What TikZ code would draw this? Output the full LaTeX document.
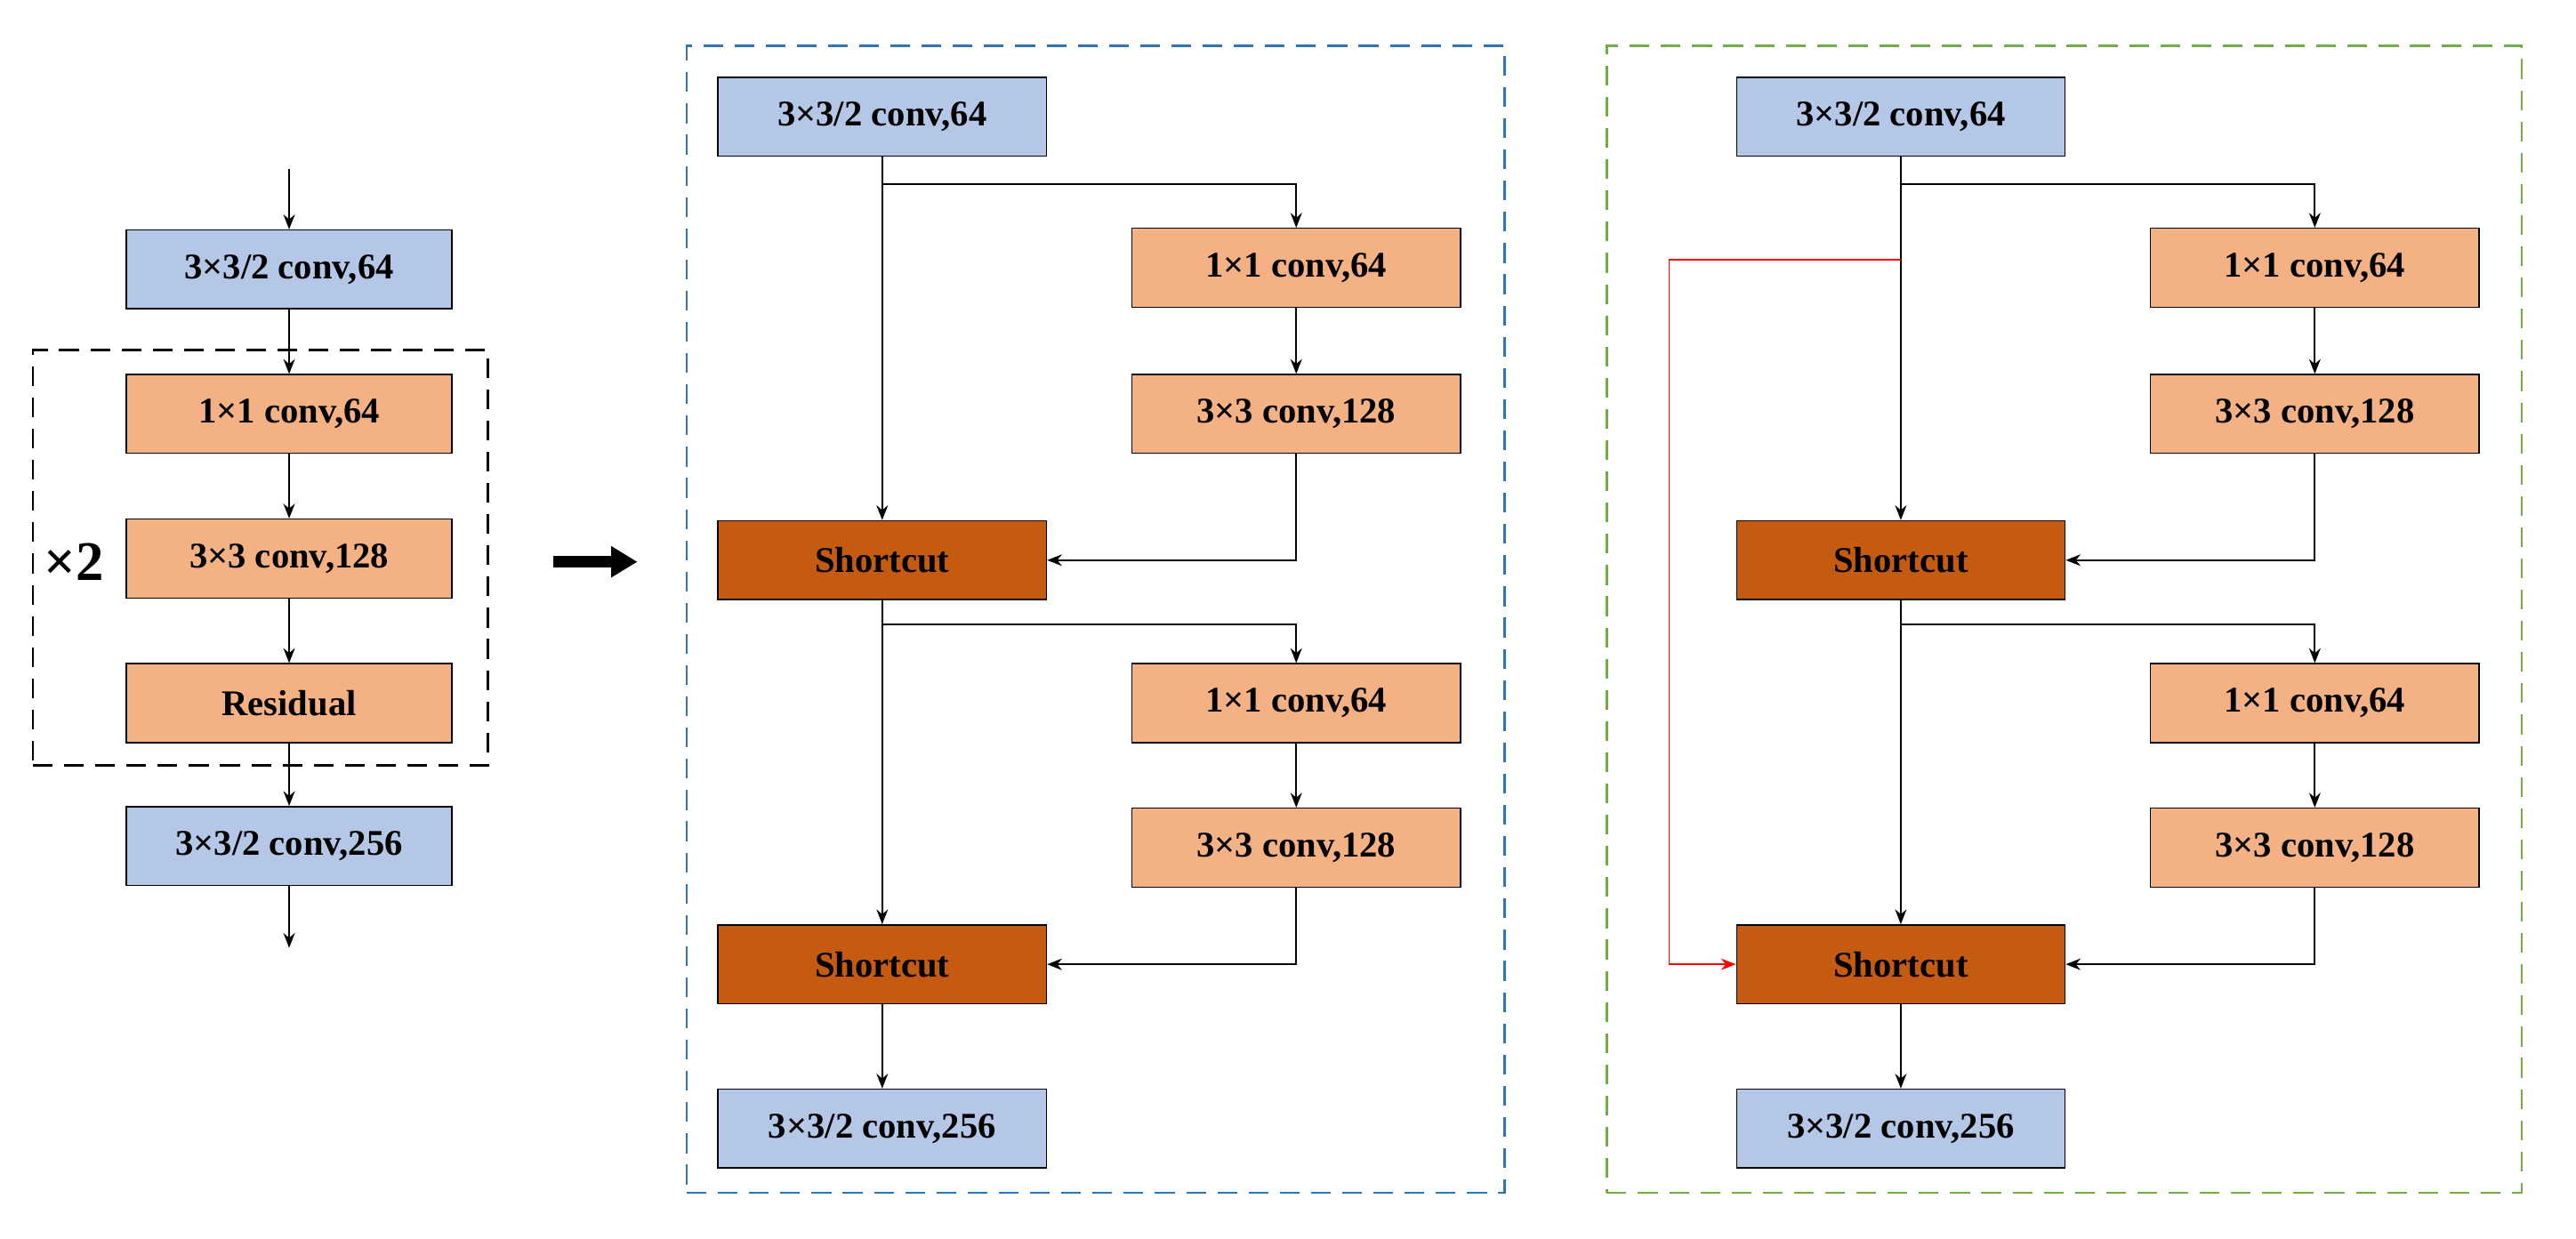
\documentclass[tikz,border=0pt]{standalone}
\usepackage{fontspec}
\setmainfont{Liberation Serif}
\usetikzlibrary{arrows.meta}
\definecolor{bl}{HTML}{B4C7E7}
\definecolor{or}{HTML}{F4B183}
\definecolor{dk}{HTML}{C55A11}
\definecolor{dblue}{HTML}{2E75B6}
\definecolor{dgreen}{HTML}{70AD47}
\begin{document}
\begin{tikzpicture}[x=1pt,y=-1pt,
  box/.style={draw=black,line width=0.8pt,minimum width=200pt,minimum height=48pt,inner sep=0pt,font=\fontsize{22}{24}\selectfont\bfseries},
  b/.style={box,fill=bl}, o/.style={box,fill=or}, d/.style={box,fill=dk},
  ar/.style={line width=1pt,-{Stealth[length=9pt,width=7pt]}},
  >={Stealth[length=9pt,width=7pt]}]
\useasboundingbox (0,0) rectangle (1568,754);
% left column
\coordinate (lin) at (176,103);
\node[b,minimum width=198pt] (l1) at (176,164) {3×3/2 conv,64};
\node[o,minimum width=198pt] (l2) at (176,252) {1×1 conv,64};
\node[o,minimum width=198pt] (l3) at (176,340) {3×3 conv,128};
\node[o,minimum width=198pt] (l4) at (176,428) {Residual};
\node[b,minimum width=198pt] (l5) at (176,515) {3×3/2 conv,256};
\coordinate (lout) at (176,577);
\draw[ar] (lin) -- (l1);
\draw[ar] (l1) -- (l2);
\draw[ar] (l2) -- (l3);
\draw[ar] (l3) -- (l4);
\draw[ar] (l4) -- (l5);
\draw[ar] (l5) -- (lout);
\node[draw,dashed,line width=1.5pt,dash pattern=on 12pt off 7pt,minimum width=277pt,minimum height=253pt,inner sep=0pt] (dl) at (158.5,339.5) {};
\node[font=\fontsize{34}{36}\selectfont\bfseries] (x2) at (45,342) {×2};
\coordinate (ba) at (337,342); \coordinate (bb) at (388,342);
\draw[line width=7pt,-{Triangle[length=16pt,width=18pt]}] (ba) -- (bb);
% panels
\node[draw=dblue,line width=1.5pt,dash pattern=on 12pt off 7pt,minimum width=498pt,minimum height=698pt,inner sep=0pt] (pm) at (667,377) {};
\node[draw=dgreen,line width=1.5pt,dash pattern=on 12pt off 7pt,minimum width=557pt,minimum height=698pt,inner sep=0pt] (pr) at (1256.5,377) {};
\foreach \p/\dx in {m/0,r/620}{
\begin{scope}[xshift=\dx pt]
\node[b] (\p t) at (537,71) {3×3/2 conv,64};
\node[o] (\p a1) at (789,163) {1×1 conv,64};
\node[o] (\p b1) at (789,252) {3×3 conv,128};
\node[d] (\p s1) at (537,341) {Shortcut};
\node[o] (\p a2) at (789,428) {1×1 conv,64};
\node[o] (\p b2) at (789,516) {3×3 conv,128};
\node[d] (\p s2) at (537,587) {Shortcut};
\node[b] (\p o) at (537,687) {3×3/2 conv,256};
\coordinate (\p j1) at (537,112);
\coordinate (\p j2) at (537,380);
\draw[ar] (\p t) -- (\p s1);
\draw[ar] (\p j1) -| (\p a1);
\draw[ar] (\p a1) -- (\p b1);
\draw[ar] (\p b1) |- (\p s1);
\draw[ar] (\p s1) -- (\p s2);
\draw[ar] (\p j2) -| (\p a2);
\draw[ar] (\p a2) -- (\p b2);
\draw[ar] (\p b2) |- (\p s2);
\draw[ar] (\p s2) -- (\p o);
\end{scope}}
\coordinate (rj) at (1157,158);
\coordinate (rk) at (1016,158);
\draw[ar,red] (rj) -- (rk) |- (rs2);
\end{tikzpicture}
\end{document}
